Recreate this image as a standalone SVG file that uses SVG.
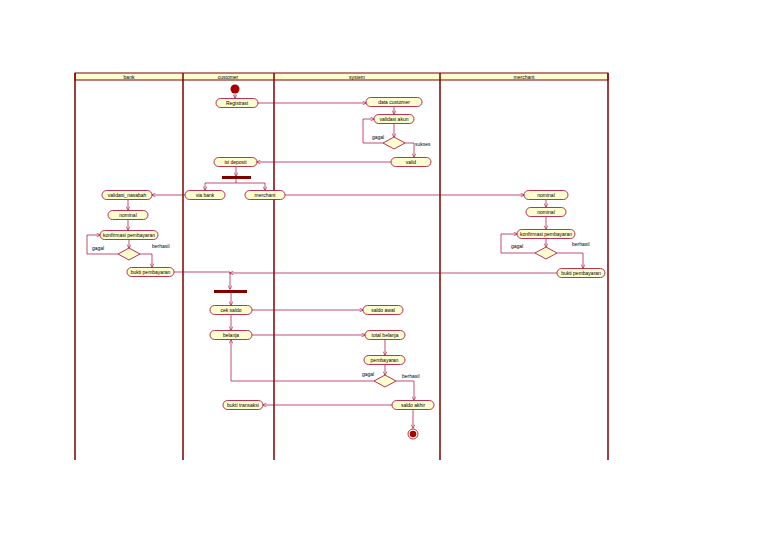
<svg xmlns="http://www.w3.org/2000/svg" width="768" height="543" viewBox="0 0 768 543">
<style>
text{font-family:"Liberation Sans",Arial,sans-serif;font-size:5px;fill:#000}
.n rect{fill:#FEFECE;stroke:#A80036;stroke-width:0.8}
.n text{text-anchor:middle}
.d{fill:#FEFECE;stroke:#A80036;stroke-width:0.8}
.c path{fill:none;stroke:#A80036;stroke-width:0.7;marker-end:url(#a)}
.lane{fill:none;stroke:#800000;stroke-width:1.5}
.hd{fill:#FEFECE;stroke:#800000;stroke-width:1}
</style>
<defs><marker id="a" viewBox="0 0 8 8" refX="7" refY="4" markerWidth="6" markerHeight="6" orient="auto"><path d="M0,0 L8,4 L0,8" fill="none" stroke="#A80036" stroke-width="1"/></marker></defs>
<rect width="768" height="543" fill="#fff"/>
<g id="lanes">
<rect class="hd" x="75" y="73" width="533" height="7"/>
<path class="lane" d="M75,73V460M183,73V460M274,73V460M440,73V460M608,73V460"/>
<text x="129" y="78.5" text-anchor="middle">bank</text>
<text x="228" y="78.5" text-anchor="middle">customer</text>
<text x="357" y="78.5" text-anchor="middle">system</text>
<text x="524" y="78.5" text-anchor="middle">merchant</text>
</g>
<g class="c" id="connectors">
<path d="M235,94V98"/>
<path d="M258,103H366"/>
<path d="M394,107V114"/>
<path d="M394,124V137"/>
<path d="M383,143H363V119H374"/>
<path d="M405,143H414V157"/>
<path d="M391,162H257"/>
<path d="M236,167V176"/>
<path d="M236,178V183H205V190"/>
<path d="M236,183H265V190"/>
<path d="M185,195H152"/>
<path d="M285,195H524"/>
<path d="M128,200V210"/>
<path d="M128,220V230"/>
<path d="M129,240V248"/>
<path d="M118,254H87V235H100"/>
<path d="M140,254H152V267"/>
<path d="M546,200V207"/>
<path d="M546,217V229"/>
<path d="M546,239V247"/>
<path d="M535,253H501V234H517"/>
<path d="M557,253H583V268"/>
<path d="M174,272H230V289"/>
<path d="M557,273H230"/>
<path d="M231,292V305"/>
<path d="M252,310H363"/>
<path d="M231,315V330"/>
<path d="M252,335H365"/>
<path d="M385,340V355"/>
<path d="M385,365V375"/>
<path d="M374,381H231V340"/>
<path d="M396,381H414V400"/>
<path d="M392,405H263"/>
<path d="M413,410V428"/>
</g>
<circle id="start" cx="235" cy="89" r="4.5" fill="#A80000"/>
<g id="end"><circle cx="413" cy="434" r="5" fill="none" stroke="#A80000" stroke-width="0.8"/><circle cx="413" cy="434" r="3.3" fill="#A80000"/></g>
<rect id="fork1" x="222" y="176" width="29" height="3" fill="#800000"/>
<rect id="fork2" x="214" y="290" width="33" height="3" fill="#800000"/>
<g class="n" id="registrasi"><rect x="216" y="98.5" width="42" height="9" rx="4.5"/><text x="237" y="104.7">Registrasi</text></g>
<g class="n" id="data_customer"><rect x="366" y="97.5" width="56" height="9" rx="4.5"/><text x="394" y="103.7">data customer</text></g>
<g class="n" id="validasi_akun"><rect x="374" y="114.5" width="40" height="9" rx="4.5"/><text x="394" y="120.7">validasi akun</text></g>
<polygon class="d" id="dec1" points="383,143 394,137 405,143 394,149"/>
<text x="372" y="139">gagal</text><text x="415" y="146">sukses</text>
<g class="n" id="valid"><rect x="391" y="157.5" width="40" height="9" rx="4.5"/><text x="411" y="163.7">valid</text></g>
<g class="n" id="isi_deposit"><rect x="214" y="157.5" width="43" height="9" rx="4.5"/><text x="235.5" y="163.7">isi deposit</text></g>
<g class="n" id="via_bank"><rect x="185" y="190.5" width="40" height="9" rx="4.5"/><text x="205" y="196.7">via bank</text></g>
<g class="n" id="merchant"><rect x="245" y="190.5" width="40" height="9" rx="4.5"/><text x="265" y="196.7">merchant</text></g>
<g class="n" id="validasi_nasabah"><rect x="102" y="190.5" width="50" height="9" rx="4.5"/><text x="127" y="196.7">validasi_nasabah</text></g>
<g class="n" id="nominal_bank"><rect x="108" y="210.5" width="40" height="9" rx="4.5"/><text x="128" y="216.7">nominal</text></g>
<g class="n" id="konfirmasi_bank"><rect x="100" y="230.5" width="58" height="9" rx="4.5"/><text x="129" y="236.7">konfirmasi pembayaran</text></g>
<polygon class="d" id="dec2" points="118,254 129,248 140,254 129,260"/>
<text x="92" y="250">gagal</text><text x="152" y="248">berhasil</text>
<g class="n" id="bukti_bank"><rect x="127" y="267.5" width="47" height="9" rx="4.5"/><text x="150.5" y="273.7">bukti pembayaran</text></g>
<g class="n" id="nominal_m1"><rect x="524" y="190.5" width="44" height="9" rx="4.5"/><text x="546" y="196.7">nominal</text></g>
<g class="n" id="nominal_m2"><rect x="526" y="207.5" width="40" height="9" rx="4.5"/><text x="546" y="213.7">nominal</text></g>
<g class="n" id="konfirmasi_m"><rect x="517" y="229.5" width="58" height="9" rx="4.5"/><text x="546" y="235.7">konfirmasi pembayaran</text></g>
<polygon class="d" id="dec3" points="535,253 546,247 557,253 546,259"/>
<text x="511" y="248">gagal</text><text x="572" y="246">berhasil</text>
<g class="n" id="bukti_m"><rect x="557" y="268.5" width="48" height="9" rx="4.5"/><text x="581" y="274.7">bukti pembayaran</text></g>
<g class="n" id="cek_saldo"><rect x="210" y="305.5" width="42" height="9" rx="4.5"/><text x="231" y="311.7">cek saldo</text></g>
<g class="n" id="saldo_awal"><rect x="363" y="305.5" width="40" height="9" rx="4.5"/><text x="383" y="311.7">saldo awal</text></g>
<g class="n" id="belanja"><rect x="210" y="330.5" width="42" height="9" rx="4.5"/><text x="231" y="336.7">belanja</text></g>
<g class="n" id="total_belanja"><rect x="365" y="330.5" width="40" height="9" rx="4.5"/><text x="385" y="336.7">total belanja</text></g>
<g class="n" id="pembayaran"><rect x="364" y="355.5" width="41" height="9" rx="4.5"/><text x="384.5" y="361.7">pembayaran</text></g>
<polygon class="d" id="dec4" points="374,381 385,375 396,381 385,387"/>
<text x="362" y="376">gagal</text><text x="402" y="378">berhasil</text>
<g class="n" id="saldo_akhir"><rect x="392" y="400.5" width="42" height="9" rx="4.5"/><text x="413" y="406.7">saldo akhir</text></g>
<g class="n" id="bukti_transaksi"><rect x="223" y="400.5" width="40" height="9" rx="4.5"/><text x="243" y="406.7">bukti transaksi</text></g>
</svg>
